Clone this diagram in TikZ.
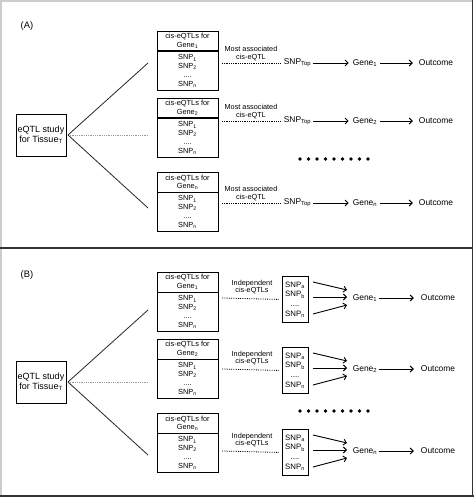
\documentclass[tikz,border=0pt]{standalone}
\usepackage{fontspec}
\setmainfont{Liberation Sans}
\usetikzlibrary{arrows.meta,positioning}
\tikzset{
  hdr/.style={draw, line width=0.75pt, minimum width=61pt, minimum height=19.5pt, inner sep=0pt, anchor=north, align=center, font=\fontsize{7.4}{8.6}\selectfont},
  bdy/.style={draw, line width=0.75pt, minimum width=61pt, minimum height=38.5pt, inner sep=0pt, anchor=north, align=center, font=\fontsize{7.4}{8.7}\selectfont},
  eqbox/.style={draw, line width=0.8pt, minimum width=50pt, minimum height=42pt, inner sep=0pt, align=center, font=\fontsize{9}{9.8}\selectfont},
  snpb/.style={draw, line width=0.8pt, minimum width=26pt, minimum height=46pt, inner sep=0pt, align=center, font=\fontsize{7.8}{9.7}\selectfont},
  rowtxt/.style={inner sep=2pt, font=\fontsize{8.4}{9}\selectfont},
  lbl/.style={inner sep=0pt, align=center, font=\fontsize{7.3}{7.8}\selectfont},
  arr/.style={line width=0.9pt, -{Straight Barb[length=3pt,width=6pt]}},
  dotl/.style={line width=0.8pt, densely dotted},
  fan/.style={line width=0.8pt, black!85},
  fanmid/.style={line width=0.8pt, gray!80, densely dotted},
}
\newcommand\genebox[3]{%
  \node[hdr] (#1h) at (187.5,#2) {cis-eQTLs for\\Gene\textsubscript{#3}};
  \node[bdy] (#1b) at (#1h.south) {SNP\textsubscript{1}\\SNP\textsubscript{2}\\....\\SNP\textsubscript{n}};
}
\newcommand\rowA[3]{%
  \node[rowtxt] (#1s) at (297.5,#2) {SNP\textsubscript{Top}};
  \node[rowtxt] (#1g) at (365,#2) {Gene\textsubscript{#3}};
  \node[rowtxt] (#1o) at (436,#2) {Outcome};
  \node[lbl] (#1l) at (251,{#2-9.5}) {Most associated\\cis-eQTL};
  \coordinate (#1d) at (222,#2);
  \draw[dotl, shorten >=1pt] (#1d) -- (#1s.west);
  \draw[arr, shorten >=2pt] (#1s) -- (#1g);
  \draw[arr, shorten <=1pt, shorten >=4pt] (#1g) -- (#1o);
}
\newcommand\rowB[3]{%
  \node[snpb] (#1x) at (295,{#2+1.5}) {SNP\textsubscript{a}\\SNP\textsubscript{b}\\....\\SNP\textsubscript{n}};
  \node[rowtxt] (#1g) at (365,#2) {Gene\textsubscript{#3}};
  \node[rowtxt] (#1o) at (438,#2) {Outcome};
  \node[lbl] (#1l) at (252,{#2-11}) {Independent\\cis-eQTLs};
  \coordinate (#1d) at (222,#2);
  \draw[dotl, shorten >=3pt] (#1d) -- (#1x.west);
  \coordinate (#1s1) at (313,{#2-16});
  \coordinate (#1s2) at (313,{#2-1});
  \coordinate (#1s3) at (313,{#2+16});
  \coordinate (#1e1) at (347,{#2-8});
  \coordinate (#1e2) at (347,{#2-1});
  \coordinate (#1e3) at (347,{#2+7});
  \draw[arr] (#1s1) -- (#1e1);
  \draw[arr] (#1s2) -- (#1e2);
  \draw[arr] (#1s3) -- (#1e3);
  \draw[arr, shorten >=5pt] (#1g) -- (#1o);
}
\begin{document}
\begin{tikzpicture}[x=1pt,y=-1pt]
\useasboundingbox (0,0) rectangle (474,497);
% frame
\fill[gray!40] (0,0) rectangle (2,497);
\fill[gray!40] (0,0) rectangle (472,2);
\draw[line width=1.5pt, black!80] (472.5,0) -- (472.5,497);
\draw[line width=1.6pt, black!80] (0,248) -- (472,248);
\draw[line width=1.8pt, black!80] (0,496) -- (474,496);

% ---------- Panel A ----------
\node[font=\fontsize{9.4}{10}\selectfont, inner sep=0pt] (labA) at (27,26) {(A)};
\node[eqbox] (eqa) at (41,135) {eQTL study\\for Tissue\textsubscript{T}};
\coordinate (fa) at (68,135);
\coordinate (fa1) at (148,63);
\coordinate (fa2) at (148,135);
\coordinate (fa3) at (148,208);
\draw[fan] (fa) -- (fa1);
\draw[fanmid] (fa) -- (fa2);
\draw[fan] (fa) -- (fa3);
\genebox{a1}{31}{1}
\genebox{a2}{98}{2}
\genebox{an}{172}{n}
\rowA{ra1}{63}{1}
\rowA{ra2}{121}{2}
\rowA{ran}{203}{n}
\foreach \i in {0,...,8} \fill (300+\i*8.5,159) circle (1.8);

% ---------- Panel B ----------
\node[font=\fontsize{9.4}{10}\selectfont, inner sep=0pt] (labB) at (27,275) {(B)};
\node[eqbox] (eqb) at (41,382) {eQTL study\\for Tissue\textsubscript{T}};
\coordinate (fb) at (68,382);
\coordinate (fb1) at (148,310);
\coordinate (fb2) at (148,382);
\coordinate (fb3) at (148,455);
\draw[fan] (fb) -- (fb1);
\draw[fanmid] (fb) -- (fb2);
\draw[fan] (fb) -- (fb3);
\genebox{b1}{272}{1}
\genebox{b2}{339}{2}
\genebox{bn}{413}{n}
\rowB{rb1}{298}{1}
\rowB{rb2}{369}{2}
\rowB{rbn}{451}{n}
\foreach \i in {0,...,8} \fill (300+\i*8.5,411) circle (1.8);
\end{tikzpicture}
\end{document}
